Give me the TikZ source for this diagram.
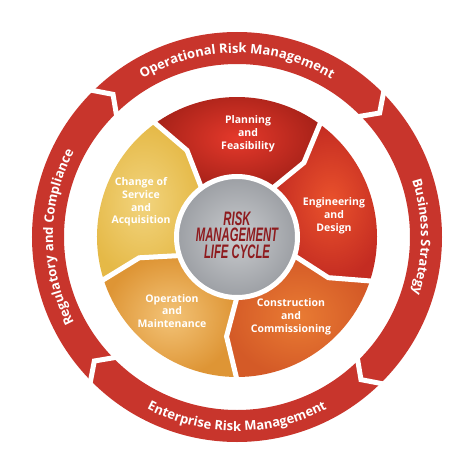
\documentclass[tikz,border=0pt]{standalone}
\usepackage{fontspec}
\setmainfont{Open Sans}
\newfontfamily\cyclefont{Liberation Sans}
\usetikzlibrary{decorations.text}

\definecolor{ringred}{HTML}{C8352C}
\definecolor{planin}{HTML}{E5392B}
\definecolor{planout}{HTML}{A82219}
\definecolor{engin}{HTML}{EA522C}
\definecolor{engout}{HTML}{C42C22}
\definecolor{conin}{HTML}{E97B33}
\definecolor{conout}{HTML}{D45A27}
\definecolor{opin}{HTML}{F3C377}
\definecolor{opout}{HTML}{DE9535}
\definecolor{chin}{HTML}{F2D47E}
\definecolor{chout}{HTML}{E5B947}
\definecolor{hubin}{HTML}{C9CBCE}
\definecolor{hubout}{HTML}{9C9FA4}
\definecolor{titlered}{HTML}{8E1B1E}

\newcommand\ringfont{\color{white}\bfseries\fontsize{13}{13}\selectfont}

\tikzset{
  ringgap/.style={white,line width=5pt},
  seggap/.style={white,line width=5pt},
  seglabel/.style={text=white,align=center,font=\bfseries\fontsize{10.5}{12.8}\selectfont},
  hub/.style={circle,minimum size=121pt,inner sep=0pt,draw=white,line width=5pt,
    inner color=hubin,outer color=hubout},
  hubtext/.style={text=titlered,align=center,xscale=0.58,
    font=\cyclefont\bfseries\itshape\fontsize{19.5}{16.5}\selectfont},
  ringtext/.style={decorate,decoration={text along path,text align=center,text={#1}}}
}

\begin{document}
\begin{tikzpicture}
\useasboundingbox (-237pt,-237pt) rectangle (237pt,237pt);

% outer ring
\foreach \a/\b in {135/45,45/-45,-45/-135,-135/-225}
  \fill[ringred] (\a:173pt) -- (\a-4:189pt) -- (\a:205pt)
    arc[start angle=\a,end angle=\b,radius=205pt]
    -- (\b-4:189pt) -- (\b:173pt)
    arc[start angle=\b,end angle=\a,radius=173pt] -- cycle;
\foreach \a in {135,45,-45,-135}
  \draw[ringgap] (\a:170pt) -- (\a-4:189pt) -- (\a:208pt);

% ring texts
\path[ringtext={|\ringfont|Operational Risk Management}]
  (150:184pt) arc[start angle=150,end angle=30,radius=184pt];
\path[ringtext={|\ringfont|Business Strategy}]
  (60:184pt) arc[start angle=60,end angle=-60,radius=184pt];
\path[ringtext={|\ringfont|Enterprise Risk Management}]
  (-150:194pt) arc[start angle=-150,end angle=-30,radius=194pt];
\path[ringtext={|\ringfont|Regulatory and Compliance}]
  (240:184pt) arc[start angle=240,end angle=120,radius=184pt];

% life cycle segments
\foreach \a/\b/\ci/\co in {126/54/planin/planout,54/-18/engin/engout,
    -18/-90/conin/conout,-90/-162/opin/opout,-162/-234/chin/chout}
  \shade[inner color=\ci,outer color=\co] (\a:60pt) -- (\a-6:100pt) -- (\a:140pt)
    arc[start angle=\a,end angle=\b,radius=140pt]
    -- (\b-6:100pt) -- (\b:60pt)
    arc[start angle=\b,end angle=\a,radius=60pt] -- cycle;
\foreach \a in {126,54,-18,-90,-162}
  \draw[seggap] (\a:60pt) -- (\a-6:100pt) -- (\a:143pt);

\node[hub] (hub) at (0,0) {};
\node[hubtext] (title) at (0,2pt) {RISK\\MANAGEMENT\\LIFE CYCLE};

\node[seglabel] (plan) at (11pt,103pt) {Planning\\and\\Feasibility};
\node[seglabel] (eng) at (97pt,21pt) {Engineering\\and\\Design};
\node[seglabel] (constr) at (54pt,-80pt) {Construction\\and\\Commissioning};
\node[seglabel] (oper) at (-65pt,-74pt) {Operation\\and\\Maintenance};
\node[seglabel] (change) at (-96pt,35pt) {Change of\\Service\\and\\Acquisition};
\end{tikzpicture}
\end{document}
